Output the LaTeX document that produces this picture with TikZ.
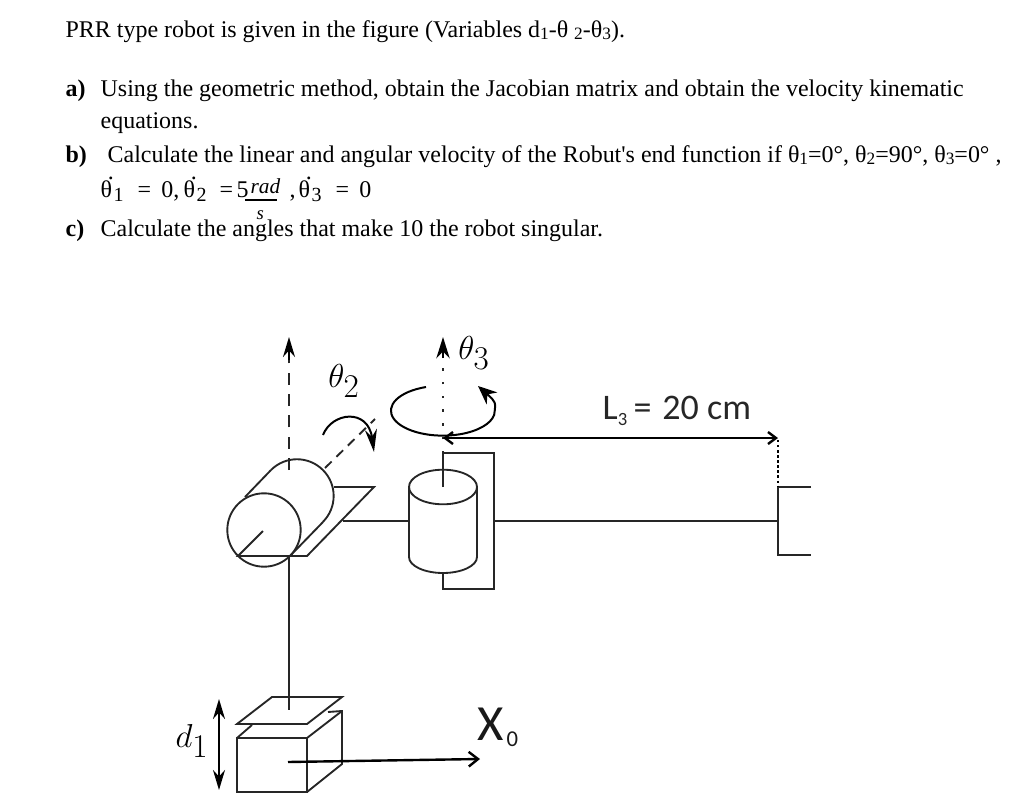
\documentclass[tikz,border=0pt]{standalone}
\usepackage{amsmath}
\usepackage[no-math]{fontspec}
\setmainfont{Liberation Serif}
\newfontfamily\plainfont{Liberation Serif}
\newfontfamily\labelfont{Carlito}
\usetikzlibrary{arrows,arrows.meta}
\newcommand{\lowsub}[1]{\raisebox{-0.2ex}{\fontsize{13}{13}\selectfont #1}}
\newcommand{\thetadot}[1]{\makebox[0pt][l]{\hspace{0.3em}\raisebox{0.72em}{.}}θ\raisebox{-0.45ex}{\fontsize{15}{15}\selectfont\hspace{0.08em}#1}}
\begin{document}
\begin{tikzpicture}[x=0.75pt,y=-0.75pt,>=stealth',line width=1pt]
\tikzstyle{txt}=[anchor=base west,inner sep=0pt,font=\fontsize{17.97}{20}\selectfont]
\tikzstyle{mech}=[line width=1.4pt,black!85!white]
\tikzstyle{bigmath}=[inner sep=0pt,font=\fontsize{36}{38}\selectfont,black]
\tikzstyle{bigtip}=[-{Stealth[length=15pt,width=9pt]},line width=1.5pt,black]
\tikzstyle{opentip}=[line width=1.8pt,black]
\useasboundingbox (0,0) rectangle (1026,807);

% question text
\node (line_a) [txt] at (65,37) {PRR type robot is given in the figure (Variables d\lowsub{1}-θ \lowsub{2}-θ\lowsub{3}).};
\node (mark_a) [txt] at (65,96) {\textbf{a)}};
\node (text_a) [txt] at (100,96) {Using the geometric method, obtain the Jacobian matrix and obtain the velocity kinematic};
\node (text_a2) [txt] at (100,128) {equations.};
\node (mark_b) [txt] at (65,162) {\textbf{b)}};
\node (text_b) [txt] at (107,162) {Calculate the linear and angular velocity of the Robut{\plainfont\char"27}s end function if θ\lowsub{1}=0°, θ\lowsub{2}=90°, θ\lowsub{3}=0° ,};
\node (dot_1) [txt] at (100,197) {\thetadot{1}};
\node (eq_1) [txt] at (137,197) {=\hspace{0.18em} 0,};
\node (dot_2) [txt] at (183,197) {\thetadot{2}};
\node (eq_2) [txt] at (219,197) {=};
\node (five) [txt] at (236,197) {5};
\node (frac_n) [txt,font=\fontsize{16}{16}\selectfont\itshape] at (250,193) {rad};
\node (frac_d) [txt,font=\fontsize{14}{14}\selectfont\itshape] at (256,219) {s};
\node (comma_b) [txt] at (289,197) {,};
\node (dot_3) [txt] at (298,197) {\thetadot{3}};
\node (eq_3) [txt] at (335,197) {=\hspace{0.18em} 0};
\draw[-,line width=1.2pt,black] (245,200)--(277,200);
\node (mark_c) [txt] at (65,236) {\textbf{c)}};
\node (text_c) [txt] at (100,236) {Calculate the angles that make 10 the robot singular.};

% base
\draw[mech] (237,738)--(307,738)--(307,792)--(237,792)--cycle;
\draw[mech] (307,792)--(342,764)--(342,711)--(328,712);
\draw[mech] (307,738)--(342,711);
\draw[mech] (237,738)--(252,725);
\draw[mech] (237,724)--(307,724)--(342,697)--(272,697)--cycle;
\draw[{Stealth[length=15pt,width=9pt]}-{Stealth[length=15pt,width=9pt]},line width=1.5pt,black] (219,699)--(219,790);
\draw[-{Straight Barb[length=7pt,width=11pt]},opentip] (288,762)--(480,759);
\draw[mech] (289,557)--(289,710);

% horizontal cylinder and its plate
\draw[mech] (264,530) circle (36.7);
\draw[mech] (271,470) arc[start angle=-135,end angle=45,radius=36.7];
\draw[mech] (245,497)--(271,470);
\draw[mech] (290,556)--(323,522);
\draw[mech] (334,487)--(374,487)--(307,556)--(238,556)--(263,531);
\draw[mech] (343,521)--(409,521);
\draw[mech,dash pattern=on 7pt off 5pt] (325,468)--(375,419);
\draw[mech,line width=1.6pt,dash pattern=on 9pt off 7pt] (289,470)--(289,358);
\draw[bigtip] (289,360)--(289,337);
\draw[-{Stealth[length=17pt,width=9pt]},line width=1.5pt,black] (323,435) .. controls (332,412) and (368,408) .. (374,452);

% vertical cylinder and its frame
\draw[mech] (443,487) ellipse (34 and 17.3);
\draw[mech] (409,487)--(409,557) arc[start angle=180,end angle=0,x radius=34,y radius=16]--(477,487);
\draw[mech] (443,487)--(443,453)--(494,453)--(494,589)--(443,589)--(443,573);
\draw[mech,line width=1.8pt,dash pattern=on 1.8pt off 8.5pt] (443,453)--(443,355);
\draw[-{Stealth[length=16pt,width=10pt]},line width=1.8pt,black] (443,358)--(443,337);
\draw[-{Stealth[length=14pt,width=12pt]},line width=1.5pt,black] (426,387) arc[start angle=-109,end angle=-350,x radius=52,y radius=25] .. controls (496,402) .. (478,386);

% arm
\draw[mech] (494,521)--(778,521);
\draw[mech] (811,487)--(778,487)--(778,555)--(811,555);
\draw[{Straight Barb[length=6pt,width=9pt]}-{Straight Barb[length=6pt,width=9pt]},opentip] (443,438)--(778,438);
\draw[black,line width=1.8pt,dotted] (778,440)--(778,487);

% labels
\node (theta_2) [bigmath] at (344,381) {$\theta_2$};
\node (theta_3) [bigmath] at (474,353) {$\theta_3$};
\node (d_1) [bigmath] at (192,741) {$d_1$};
\node (L_3) [inner sep=0pt,anchor=base west,font=\labelfont\fontsize{27}{29}\selectfont,black!85!white] at (602,419) {L\raisebox{-0.4ex}{\fontsize{14}{14}\selectfont 3}\hspace{0.18em}=\hspace{0.3em}20 cm};
\node (X_0) [inner sep=0pt,anchor=base west,font=\labelfont\fontsize{38}{40}\selectfont,black!90!white] at (477,740) {X\raisebox{-5pt}{\fontsize{17}{17}\selectfont\hspace{2pt}0}};
\end{tikzpicture}
\end{document}
